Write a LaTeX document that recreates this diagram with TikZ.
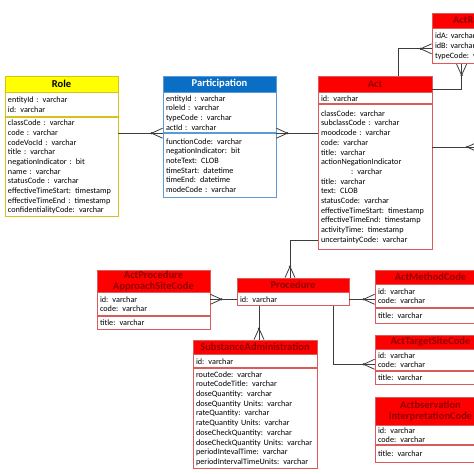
\documentclass[tikz,border=0pt]{standalone}
\usepackage{fontspec}
\setmainfont{Carlito}
\usepackage{xcolor}
\usepackage{tikz}
\usetikzlibrary{positioning, arrows}
\definecolor{rolefill}{HTML}{FFFF00}
\definecolor{roleline}{HTML}{D6C21A}
\definecolor{partfill}{HTML}{0A6EC4}
\definecolor{partline}{HTML}{5A9AD6}
\definecolor{actfill}{HTML}{FF0000}
\definecolor{actline}{HTML}{DB5A5A}
\definecolor{acttext}{HTML}{8E0000}
\definecolor{linkgray}{HTML}{3C3C3C}
\pgfarrowsdeclare{crow}{crow}
{\pgfarrowsleftextend{-11pt}\pgfarrowsrightextend{0pt}}
{
  \pgfsetdash{}{0pt}
  \pgfpathmoveto{\pgfpoint{0pt}{5pt}}
  \pgfpathlineto{\pgfpoint{-11pt}{0pt}}
  \pgfpathlineto{\pgfpoint{0pt}{-5pt}}
  \pgfusepathqstroke
  \pgfpathcircle{\pgfpoint{-11pt}{0pt}}{1.2pt}
  \pgfusepathqfill
}
\tikzstyle{head} = [draw, line width=0.8pt, inner sep=0pt, align=center, font=\bfseries\fontsize{10.5}{11}\selectfont]
\tikzstyle{body} = [draw, line width=0.8pt, inner xsep=3pt, inner ysep=0pt, align=left, font=\fontsize{8.2}{9.7}\selectfont]
\tikzstyle{rolehead} = [head, fill=rolefill, draw=roleline, minimum width=113pt, minimum height=16pt]
\tikzstyle{rolebody} = [body, draw=roleline, text width=107pt]
\tikzstyle{parthead} = [head, fill=partfill, draw=partline, text=white, minimum width=113pt, minimum height=16pt]
\tikzstyle{partbody} = [body, draw=partline, text width=107pt]
\tikzstyle{acthead} = [head, fill=actfill, draw=actline, text=acttext]
\tikzstyle{actbody} = [body, draw=actline]
\tikzstyle{link} = [draw=linkgray, line width=0.8pt, -crow]

\begin{document}
\begin{tikzpicture}[x=1pt, y=-1pt]
    \useasboundingbox (0,0) rectangle (474,474);
    \clip (0,0) rectangle (474,474);
    \fill[white] (0,0) rectangle (474,474);
    % Role
    \node[rolehead] (role) at (61.5,84) {Role};
    \node[rolebody, minimum height=24pt, below=0pt of role] (role1) {entityId : varchar\\id: varchar};
    \node[rolebody, minimum height=99pt, below=0pt of role1] (role2) {classCode : varchar\\code : varchar\\codeVocId : varchar\\title : varchar\\negationIndicator : bit\\name : varchar\\statusCode : varchar\\effectiveTimeStart: timestamp\\effectiveTimeEnd : timestamp\\confidentialityCode: varchar};
    % Participation
    \node[parthead] (part) at (219.5,84) {Participation};
    \node[partbody, minimum height=40pt, below=0pt of part] (part1) {entityId : varchar\\roleId : varchar\\typeCode : varchar\\actId : varchar};
    \node[partbody, minimum height=64pt, below=0pt of part1] (part2) {functionCode: varchar\\negationIndicator: bit\\noteText: CLOB\\timeStart: datetime\\timeEnd: datetime\\modeCode : varchar};
    % Act
    \node[acthead, minimum width=114pt, minimum height=16pt] (acth) at (375,84) {Act};
    \node[actbody, text width=108pt, minimum height=11pt, below=0pt of acth] (act1) {id: varchar};
    \node[actbody, text width=108pt, minimum height=145pt, below=0pt of act1] (act2) {classCode: varchar\\subclassCode : varchar\\moodcode : varchar\\code: varchar\\title: varchar\\actionNegationIndicator\\\hspace*{30pt}: varchar\\title: varchar\\text: CLOB\\statusCode: varchar\\effectiveTimeStart: timestamp\\effectiveTimeEnd: timestamp\\activityTime: timestamp\\uncertaintyCode: varchar};
    % ActRelationship
    \node[acthead, minimum width=111pt, minimum height=15pt] (arh) at (487.5,20.5) {ActRelationship};
    \node[actbody, text width=105pt, minimum height=35pt, below=0pt of arh] (ar1) {idA: varchar\\idB: varchar\\typeCode: varchar};
    % Procedure
    \node[acthead, minimum width=112pt, minimum height=14pt] (proch) at (293,285) {Procedure};
    \node[actbody, text width=106pt, minimum height=13pt, below=0pt of proch] (proc1) {id: varchar};
    % ActProcedureApproachSiteCode
    \node[acthead, minimum width=113pt, minimum height=22pt] (apch) at (153.5,281) {ActProcedure\\ApproachSiteCode};
    \node[actbody, text width=107pt, minimum height=23pt, below=0pt of apch] (apc1) {id: varchar\\code: varchar};
    \node[actbody, text width=107pt, minimum height=13pt, below=0pt of apc1] (apc2) {title: varchar};
    % ActMethodCode
    \node[acthead, minimum width=111pt, minimum height=14pt] (amch) at (430.5,277) {ActMethodCode};
    \node[actbody, text width=105pt, minimum height=23pt, below=0pt of amch] (amc1) {id: varchar\\code: varchar};
    \node[actbody, text width=105pt, minimum height=15pt, below=0pt of amc1] (amc2) {title: varchar};
    % ActTargetSiteCode
    \node[acthead, minimum width=111pt, minimum height=14pt] (atsh) at (430.5,342) {ActTargetSiteCode};
    \node[actbody, text width=105pt, minimum height=21pt, below=0pt of atsh] (ats1) {id: varchar\\code: varchar};
    \node[actbody, text width=105pt, minimum height=13pt, below=0pt of ats1] (ats2) {title: varchar};
    % ActObservationInterpretationCode
    \node[acthead, minimum width=111pt, minimum height=28pt] (aoih) at (430.5,411) {Actbservation\\InterpretationCode};
    \node[actbody, text width=105pt, minimum height=19pt, below=0pt of aoih] (aoi1) {id: varchar\\code: varchar};
    \node[actbody, text width=105pt, minimum height=17pt, below=0pt of aoi1] (aoi2) {title: varchar};
    % SubstanceAdministration
    \node[acthead, minimum width=124pt, minimum height=14pt] (sah) at (255,347) {SubstanceAdministration};
    \node[actbody, text width=118pt, minimum height=13pt, below=0pt of sah] (sa1) {id: varchar};
    \node[actbody, text width=118pt, minimum height=100pt, below=0pt of sa1] (sa2) {routeCode: varchar\\routeCodeTitle: varchar\\doseQuantity: varchar\\doseQuantity Units: varchar\\rateQuantity: varchar\\rateQuantity Units: varchar\\doseCheckQuantity: varchar\\doseCheckQuantity Units: varchar\\periodIntevalTime: varchar\\periodIntervalTimeUnits: varchar};
    % connectors
    \coordinate (offact) at (478,147);
    \coordinate (sadrop) at ([xshift=4pt]sah.north);
    \coordinate (atsdrop) at ([xshift=-16pt]proc1.south east);
    \coordinate (atsin) at ([yshift=-4pt]ats1.west);
    \draw[link] (role2.east |- part1.south) -- (part1.south west);
    \draw[link, crow-] (part1.south east) -- (act2.west |- part1.south east);
    \draw[link] (act2.east |- offact) -- (offact);
    \draw[link] ([xshift=-34pt]acth.north east) |- ([yshift=-2.5pt]ar1.west);
    \draw[link] ([yshift=-5pt]acth.east) -| ([xshift=30pt]ar1.south west);
    \draw[link] ([yshift=10pt]act2.south west) -| ([xshift=-3pt]proch.north);
    \draw[link] (proc1.west) -- (apc1.east |- proc1.west);
    \draw[link] (proc1.east) -- (amc1.west |- proc1.east);
    \draw[link] (sadrop |- proc1.south) -- (sadrop);
    \draw[link] (atsdrop) |- (atsin);
\end{tikzpicture}
\end{document}
